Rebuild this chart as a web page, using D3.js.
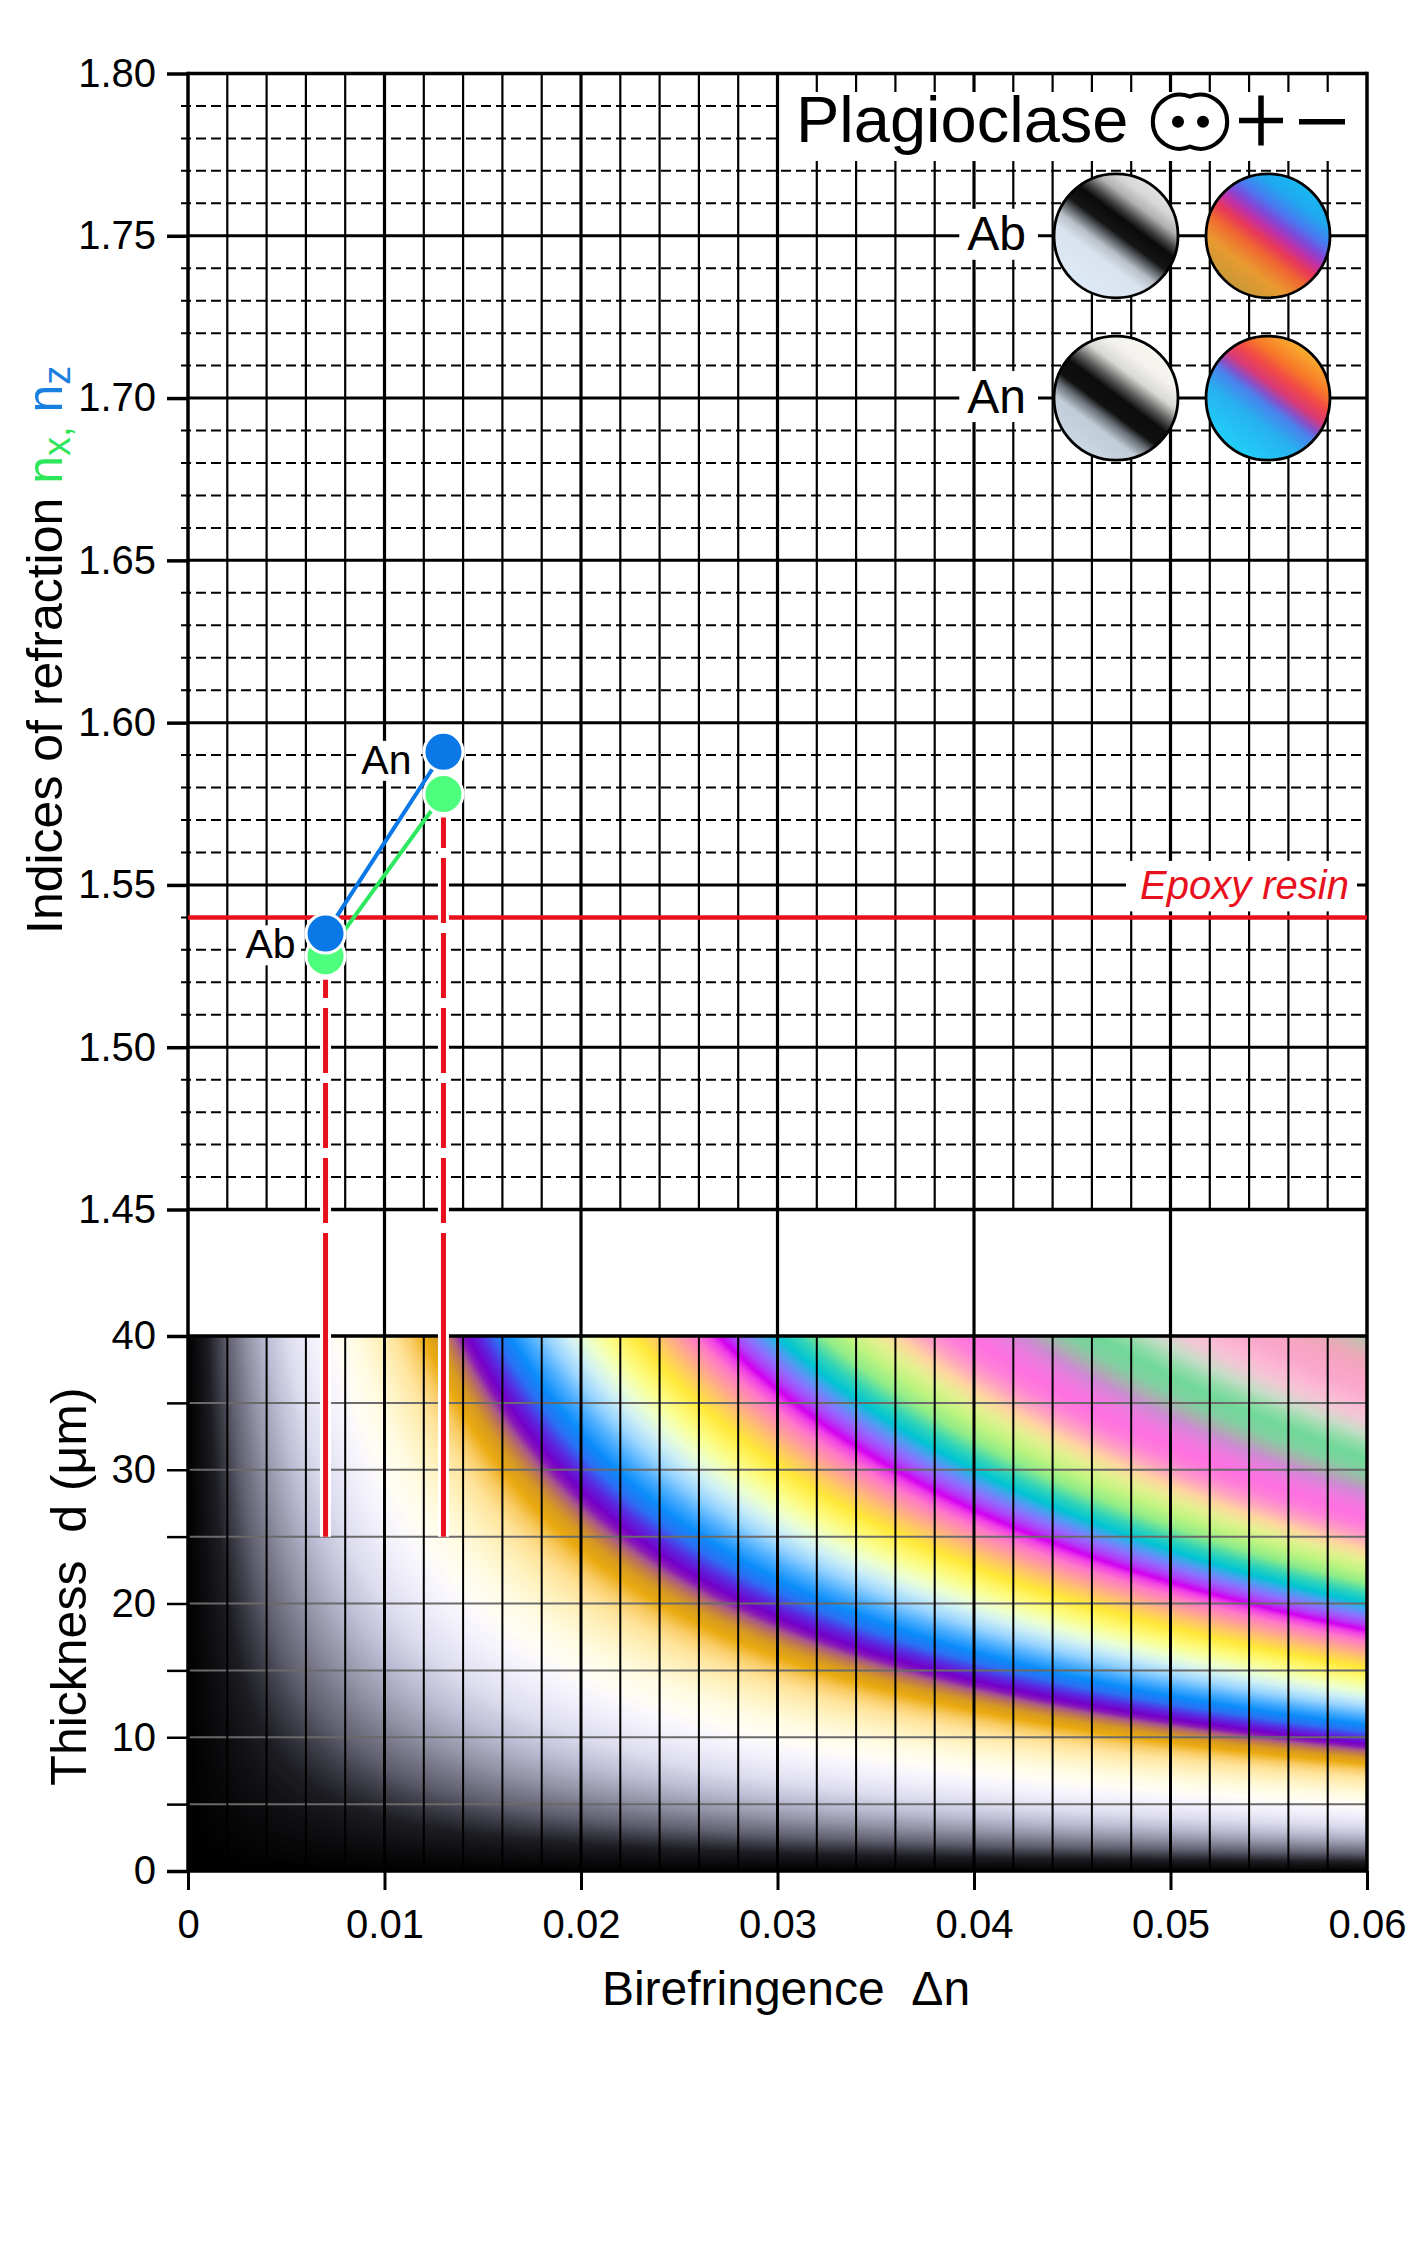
<!DOCTYPE html>
<html>
<head>
<meta charset="utf-8">
<script src="https://cdn.jsdelivr.net/npm/d3@7"></script>
<style>
  body { margin: 0; background: #fff; }
  svg { display: block; font-family: "Liberation Sans", Arial, sans-serif; }
</style>
</head>
<body>
<div id="chart"></div>
<script>
// Plagioclase: indices of refraction vs birefringence, with the Michel-Levy colour chart below

// ---- data ----
const minerals = ["Ab", "An"];
const nxValues = [1.528, 1.578];
const nzValues = [1.535, 1.591];
const epoxyIndex = 1.54;
const markerThickness = 25;

const birefTicks = [0, 0.01, 0.02, 0.03, 0.04, 0.05, 0.06];
const birefTickLabels = ["0", "0.01", "0.02", "0.03", "0.04", "0.05", "0.06"];
const indexTicks = [1.45, 1.50, 1.55, 1.60, 1.65, 1.70, 1.75, 1.80];
const indexTickLabels = ["1.45", "1.50", "1.55", "1.60", "1.65", "1.70", "1.75", "1.80"];
const thicknessTicks = [0, 5, 10, 15, 20, 25, 30, 35, 40];
const thicknessTickLabels = ["0", "", "10", "", "20", "", "30", "", "40"];

// retardation (nm) -> interference colour
const retardation = [0, 40, 80, 120, 160, 200, 240, 270, 300, 340, 380, 420, 450, 480, 505, 525, 540, 555, 570,
  595, 625, 655, 690, 730, 770, 805, 840, 875, 910, 950, 990, 1030, 1060, 1080, 1105, 1135, 1170, 1200, 1240,
  1290, 1340, 1390, 1440, 1490, 1540, 1590, 1640, 1690, 1740, 1790, 1850, 1900, 1960, 2020, 2080, 2150, 2220,
  2290, 2350, 2400, 2600];
const retardColours = ["#000000", "#1c1c22", "#606070", "#9494a8", "#bcbcd4", "#dcdcee", "#eeecf8", "#f8f6fc",
  "#fffdf4", "#fffbe0", "#fff2c0", "#ffe39a", "#f9cc66", "#eaaa10", "#d89a20", "#c07850", "#a85888", "#8a18b8",
  "#7400c8", "#5a28e0", "#2a70f4", "#0a8cfa", "#48acff", "#98d4ff", "#cff0f4", "#ecffd0", "#f8ff98", "#fff566",
  "#ffe838", "#ffc864", "#ffa098", "#ff78c8", "#f040e6", "#d200f0", "#b040f8", "#8c70ff", "#4aa0f0", "#00c4d4",
  "#30d4b8", "#90ec88", "#c0f480", "#e4f090", "#ffd4a0", "#ffa4c0", "#ff80d8", "#ff70e0", "#f07ae0", "#d088d4",
  "#a8b0b0", "#80d0a0", "#70d898", "#90dca8", "#c8dcc8", "#f0c8d4", "#fcb8d4", "#faa8cc", "#f8a4c4", "#eca8b8",
  "#d0b8b4", "#a8c8b0", "#a8c8b0"];

// ---- styles ----
const red = "#e8101c";
const green = "#4dff7c";
const blue = "#0a78e6";
const labelGreen = "#2de65a";
const labelBlue = "#1a80e0";

const width = 1417, height = 2244;

const x = d3.scaleLinear().domain([0, 0.06]).range([188, 1367]);
const yN = d3.scaleLinear().domain([1.45, 1.80]).range([1209.5, 73.5]);
const yD = d3.scaleLinear().domain([0, 40]).range([1871, 1336]);

const svg = d3.select("#chart").append("svg")
  .attr("width", width)
  .attr("height", height);

const defs = svg.append("defs");

// ---- interference colour image ----
const colour = d3.scaleLinear()
  .domain(retardation)
  .range(retardColours)
  .interpolate(d3.interpolateRgb)
  .clamp(true);

const lut = d3.range(0, 2601).map(g => d3.rgb(colour(g)));

const imgW = Math.round(x(0.06) - x(0));
const imgH = Math.round(yD(0) - yD(40));
const canvas = document.createElement("canvas");
canvas.width = imgW;
canvas.height = imgH;
const ctx = canvas.getContext("2d");
const img = ctx.createImageData(imgW, imgH);
for (let j = 0; j < imgH; j++) {
  const d = yD.invert(yD(40) + j + 0.5);
  for (let i = 0; i < imgW; i++) {
    const dn = x.invert(x(0) + i + 0.5);
    const g = Math.max(0, Math.min(2600, Math.round(d * dn * 1000)));
    const c = lut[g];
    const k = (j * imgW + i) * 4;
    img.data[k] = c.r;
    img.data[k + 1] = c.g;
    img.data[k + 2] = c.b;
    img.data[k + 3] = 255;
  }
}
ctx.putImageData(img, 0, 0);

svg.append("image")
  .attr("href", canvas.toDataURL())
  .attr("x", x(0))
  .attr("y", yD(40))
  .attr("width", x(0.06) - x(0))
  .attr("height", yD(0) - yD(40))
  .attr("preserveAspectRatio", "none");

// ---- grids ----
const grid = svg.append("g");
const steps = d3.range(1, 30); // 0.002 steps inside the frame

// lower panel: grey thickness lines, black birefringence lines
grid.selectAll(".dgrid")
  .data(d3.range(5, 40, 5))
  .join("line")
  .attr("x1", x(0)).attr("x2", x(0.06))
  .attr("y1", d => yD(d)).attr("y2", d => yD(d))
  .attr("stroke", "#6a6a6a")
  .attr("stroke-width", 2);

grid.selectAll(".vlow")
  .data(steps)
  .join("line")
  .attr("x1", i => x(i * 0.002)).attr("x2", i => x(i * 0.002))
  .attr("y1", yD(40)).attr("y2", yD(0))
  .attr("stroke", "#000")
  .attr("stroke-width", i => i % 5 === 0 ? 3 : 2);

// top panel: dashed minor index lines
grid.selectAll(".nminor")
  .data(d3.range(1, 35).filter(i => i % 5 !== 0))
  .join("line")
  .attr("x1", x(0) - 7).attr("x2", x(0.06))
  .attr("y1", i => yN(1.45 + i * 0.01)).attr("y2", i => yN(1.45 + i * 0.01))
  .attr("stroke", "#000")
  .attr("stroke-width", 2)
  .attr("stroke-dasharray", "10,5");

grid.selectAll(".vtop")
  .data(steps)
  .join("line")
  .attr("x1", i => x(i * 0.002)).attr("x2", i => x(i * 0.002))
  .attr("y1", yN(1.80)).attr("y2", yN(1.45))
  .attr("stroke", "#000")
  .attr("stroke-width", i => i % 5 === 0 ? 3.2 : 2.2);

grid.selectAll(".nmajor")
  .data(indexTicks.slice(1, -1))
  .join("line")
  .attr("x1", x(0)).attr("x2", x(0.06))
  .attr("y1", d => yN(d)).attr("y2", d => yN(d))
  .attr("stroke", "#000")
  .attr("stroke-width", 3);

// gap between the panels: only the 0.01 lines
grid.selectAll(".vgap")
  .data(birefTicks.slice(1, -1))
  .join("line")
  .attr("x1", d => x(d)).attr("x2", d => x(d))
  .attr("y1", yN(1.45)).attr("y2", yD(40))
  .attr("stroke", "#000")
  .attr("stroke-width", 3.2);

// ---- white label backgrounds ----
const boxes = svg.append("g").attr("fill", "#fff");
boxes.append("rect").attr("x", 780).attr("y", 92).attr("width", 582).attr("height", 69);

// ---- frame ----
const frame = svg.append("g").attr("stroke", "#000").attr("stroke-width", 3.5);
frame.append("line").attr("x1", x(0)).attr("x2", x(0)).attr("y1", yN(1.80) - 1.7).attr("y2", yD(0) + 1.7);
frame.append("line").attr("x1", x(0.06)).attr("x2", x(0.06)).attr("y1", yN(1.80) - 1.7).attr("y2", yD(0) + 1.7);
[yN(1.80), yN(1.45), yD(40), yD(0)].forEach(y => {
  frame.append("line").attr("x1", x(0)).attr("x2", x(0.06)).attr("y1", y).attr("y2", y);
});

// ---- axes ----
function styleAxis(g, fontSize, strokeWidth) {
  g.attr("font-family", null).attr("font-size", fontSize);
  g.select(".domain").remove();
  g.selectAll(".tick line").attr("stroke", "#000").attr("stroke-width", strokeWidth);
  g.selectAll(".tick text").attr("fill", "#000");
}

svg.append("g")
  .attr("transform", `translate(${x(0)},0)`)
  .call(d3.axisLeft(yN).tickValues(indexTicks).tickSize(21).tickPadding(11)
    .tickFormat((d, i) => indexTickLabels[i]))
  .call(g => styleAxis(g, 40, 3.5));

svg.append("g")
  .attr("transform", `translate(${x(0)},0)`)
  .call(d3.axisLeft(yD).tickValues(thicknessTicks).tickSize(21).tickPadding(11)
    .tickFormat((d, i) => thicknessTickLabels[i]))
  .call(g => styleAxis(g, 40, 2.5))
  .call(g => g.selectAll(".tick line").filter(d => d === 0 || d === 40).attr("stroke-width", 3.5));

svg.append("g")
  .attr("transform", `translate(0,${yD(0)})`)
  .call(d3.axisBottom(x).tickValues(birefTicks).tickSize(19).tickPadding(20)
    .tickFormat((d, i) => birefTickLabels[i]))
  .call(g => styleAxis(g, 40, 3));

// ---- epoxy resin ----
const epoxyY = yN(epoxyIndex);
const epoxyGroup = svg.append("g");
const epoxyText = epoxyGroup.append("text")
  .attr("x", 1349)
  .attr("y", epoxyY - 18)
  .attr("text-anchor", "end")
  .attr("font-size", 40)
  .attr("font-style", "italic")
  .attr("fill", red)
  .text("Epoxy resin");
{
  const b = epoxyText.node().getBBox();
  epoxyGroup.insert("rect", () => epoxyText.node())
    .attr("x", b.x - 14).attr("y", yN(1.55) - 24)
    .attr("width", b.width + 22).attr("height", epoxyY - yN(1.55) + 18)
    .attr("fill", "#fff");
}
svg.append("line")
  .attr("x1", x(0)).attr("x2", x(0.06))
  .attr("y1", epoxyY).attr("y2", epoxyY)
  .attr("stroke", red)
  .attr("stroke-width", 4.5);

// ---- minerals ----
const points = minerals.map((m, i) => ({
  mineral: m,
  nx: nxValues[i],
  nz: nzValues[i],
  dn: nzValues[i] - nxValues[i]
}));
const r = 19.5;

// red markers: from the points down into the colour chart (drawn bottom-up so the dash pattern lines up)
const dashList = [10];
for (let k = 0; k < 20; k++) dashList.push(65, 10);
const markers = svg.append("g").attr("fill", "none");
points.forEach(p => {
  const xp = x(p.dn);
  const yTop = yN(p.nx) + r + 4;
  const yBot = yD(markerThickness);
  const solid = yBot - (yN(1.45) + 23.5);
  const path = `M${xp},${yBot}V${yTop}`;
  markers.append("path").attr("d", path).attr("stroke", "#fff").attr("stroke-width", 11);
  markers.append("path").attr("d", path).attr("stroke", red).attr("stroke-width", 5)
    .attr("stroke-dasharray", [solid].concat(dashList).join(","));
});

const links = svg.append("g").attr("stroke-width", 4);
links.append("line")
  .attr("x1", x(points[0].dn)).attr("y1", yN(points[0].nz))
  .attr("x2", x(points[1].dn)).attr("y2", yN(points[1].nz))
  .attr("stroke", blue);
links.append("line")
  .attr("x1", x(points[0].dn)).attr("y1", yN(points[0].nx))
  .attr("x2", x(points[1].dn)).attr("y2", yN(points[1].nx))
  .attr("stroke", "#2ee860");

svg.append("g").selectAll("circle")
  .data(points)
  .join("circle")
  .attr("cx", d => x(d.dn))
  .attr("cy", d => yN(d.nx))
  .attr("r", r)
  .attr("fill", green)
  .attr("stroke", "#fff")
  .attr("stroke-width", 3);

svg.append("g").selectAll("circle")
  .data(points)
  .join("circle")
  .attr("cx", d => x(d.dn))
  .attr("cy", d => yN(d.nz))
  .attr("r", r)
  .attr("fill", blue)
  .attr("stroke", "#fff")
  .attr("stroke-width", 3);

// point labels with white backgrounds
const pointLabelPos = [
  { dx: -30, y: d => yN(d.nx) + 2 },
  { dx: -32, y: d => yN(d.nz) + 22 }
];
const pointLabels = svg.append("g");
points.forEach((p, i) => {
  const t = pointLabels.append("text")
    .attr("x", x(p.dn) + pointLabelPos[i].dx)
    .attr("y", pointLabelPos[i].y(p))
    .attr("text-anchor", "end")
    .attr("font-size", 41)
    .text(p.mineral);
  const b = t.node().getBBox();
  pointLabels.insert("rect", () => t.node())
    .attr("x", b.x - 5).attr("y", b.y + 4)
    .attr("width", b.width + 10).attr("height", b.height - 6)
    .attr("fill", "#fff");
});

// ---- legend: title, optic sign and interference figures ----
const legend = svg.append("g");
legend.append("text")
  .attr("x", 796).attr("y", 141.5)
  .attr("font-size", 65)
  .text("Plagioclase");

// biaxial symbol
legend.append("path")
  .attr("d", "M1190,96.7A27,27 0 1 0 1190,146.7A27,27 0 1 0 1190,96.7Z")
  .attr("fill", "none").attr("stroke", "#000").attr("stroke-width", 4);
legend.selectAll(".eye")
  .data([1178, 1203])
  .join("circle")
  .attr("cx", d => d).attr("cy", 121.7).attr("r", 6).attr("fill", "#000");
legend.append("path")
  .attr("d", "M1239,120.5H1283M1261,95.5V145.5M1299,121.7H1345")
  .attr("stroke", "#000").attr("stroke-width", 5.5);

const figureGradients = {
  abGrey: [[0, "#dde9f6"], [0.28, "#d9e3ee"], [0.38, "#b8bec6"], [0.47, "#50555a"], [0.52, "#151515"],
    [0.64, "#0a0a0a"], [0.7, "#404040"], [0.8, "#b0b0b0"], [0.9, "#d8d8d8"], [1, "#e2e2e0"]],
  abColour: [[0, "#c89838"], [0.2, "#e89a30"], [0.35, "#f06a30"], [0.46, "#e83858"], [0.55, "#c030a8"],
    [0.63, "#8048d8"], [0.72, "#4a78f0"], [0.85, "#20a8f0"], [1, "#18b8f0"]],
  anGrey: [[0, "#cad8e4"], [0.22, "#c0ccd6"], [0.32, "#6a7078"], [0.39, "#101010"], [0.52, "#0c0c0c"],
    [0.6, "#555555"], [0.72, "#d8d8d4"], [0.85, "#f4f2ee"], [1, "#f8f6f0"]],
  anColour: [[0, "#20d0f8"], [0.3, "#28b0f0"], [0.45, "#4a80ec"], [0.52, "#8850c8"], [0.6, "#d83a78"],
    [0.7, "#f04848"], [0.82, "#f87a28"], [1, "#f8b030"]]
};
Object.entries(figureGradients).forEach(([id, stops]) => {
  const lg = defs.append("linearGradient").attr("id", id)
    .attr("x1", 0.2).attr("y1", 0.9).attr("x2", 0.8).attr("y2", 0.1);
  stops.forEach(s => lg.append("stop").attr("offset", s[0]).attr("stop-color", s[1]));
});

const legendRows = [
  { mineral: "Ab", n: 1.75, grey: "abGrey", colour: "abColour" },
  { mineral: "An", n: 1.70, grey: "anGrey", colour: "anColour" }
];
legendRows.forEach(row => {
  const cy = yN(row.n);
  const t = legend.append("text")
    .attr("x", 1026).attr("y", cy + 14.5)
    .attr("text-anchor", "end")
    .attr("font-size", 48)
    .text(row.mineral);
  const b = t.node().getBBox();
  legend.insert("rect", () => t.node())
    .attr("x", b.x - 8).attr("y", cy - 27)
    .attr("width", b.width + 20).attr("height", 51)
    .attr("fill", "#fff");
  [[1116, row.grey], [1268, row.colour]].forEach(([cx, grad]) => {
    legend.append("circle")
      .attr("cx", cx).attr("cy", cy).attr("r", 62)
      .attr("fill", `url(#${grad})`)
      .attr("stroke", "#000").attr("stroke-width", 2.8);
  });
});

// ---- axis titles ----
const yTitle = svg.append("text")
  .attr("transform", "translate(62,934) rotate(-90)")
  .attr("font-size", 50);
yTitle.append("tspan").text("Indices of refraction ");
yTitle.append("tspan").attr("fill", labelGreen).text("n");
yTitle.append("tspan").attr("fill", labelGreen).attr("font-size", 38).attr("dy", 8).text("x,");
yTitle.append("tspan").attr("fill", labelBlue).attr("dy", -8).text("\u00a0n");
yTitle.append("tspan").attr("fill", labelBlue).attr("font-size", 38).attr("dy", 8).text("z");

svg.append("text")
  .attr("transform", `translate(86,${(yD(0) + yD(40)) / 2 - 17}) rotate(-90)`)
  .attr("text-anchor", "middle")
  .attr("font-size", 50)
  .text("Thickness\u00a0\u00a0d (\u03bcm)");

svg.append("text")
  .attr("x", 786).attr("y", 2005)
  .attr("text-anchor", "middle")
  .attr("font-size", 48)
  .text("Birefringence\u00a0\u00a0\u0394n");
</script>
</body>
</html>
